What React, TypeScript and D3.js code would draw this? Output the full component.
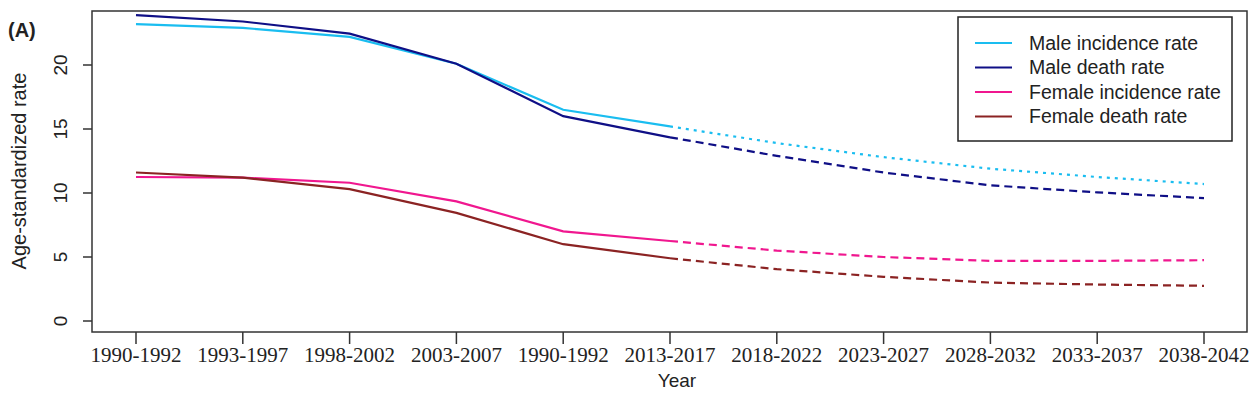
import React, { useRef, useEffect } from 'react';
import * as d3 from 'd3';

// period labels (the fifth one really reads "1990-1992" in the source)
const periods = [
  '1990-1992', '1993-1997', '1998-2002', '2003-2007', '1990-1992', '2013-2017',
  '2018-2022', '2023-2027', '2028-2032', '2033-2037', '2038-2042',
];
const observedEnd = 5; // index of 2013-2017, last observed period

const maleIncidence = [23.2, 22.9, 22.2, 20.1, 16.5, 15.2, 13.9, 12.8, 11.9, 11.25, 10.7];
const maleDeath = [23.9, 23.4, 22.45, 20.1, 16.0, 14.35, 12.9, 11.6, 10.6, 10.05, 9.6];
const femaleIncidence = [11.25, 11.2, 10.8, 9.35, 7.0, 6.25, 5.5, 5.0, 4.7, 4.7, 4.75];
const femaleDeath = [11.6, 11.2, 10.3, 8.45, 6.0, 4.9, 4.05, 3.45, 3.0, 2.85, 2.75];

const yTicks = [0, 5, 10, 15, 20];

const seriesList = [
  { label: 'Male incidence rate', values: maleIncidence, color: '#1ABDF0', dash: '3,5' },
  { label: 'Male death rate', values: maleDeath, color: '#0F0F86', dash: '8,5' },
  { label: 'Female incidence rate', values: femaleIncidence, color: '#F0178F', dash: '8,5' },
  { label: 'Female death rate', values: femaleDeath, color: '#8B2323', dash: '8,5' },
];

const W = 1258;
const H = 393;

const App: React.FC = () => {
  const svgRef = useRef<SVGSVGElement | null>(null);

  useEffect(() => {
    const svg = d3.select(svgRef.current);
    svg.selectAll('*').remove();

    const box = { left: 92, right: 1247, top: 11, bottom: 332 };
    const x = d3.scaleLinear().domain([0, periods.length - 1]).range([136, 1204]);
    const y = d3.scaleLinear().domain([0, 20]).range([321, 65]);
    const sans = 'Liberation Sans, Arial, sans-serif';
    const serif = 'Liberation Serif, Times New Roman, serif';

    svg.append('rect')
      .attr('width', W)
      .attr('height', H)
      .attr('fill', '#fff');

    // observed part solid, projection dashed/dotted
    const ln = d3.line<{ v: number; i: number }>()
      .x(d => x(d.i))
      .y(d => y(d.v));

    seriesList.forEach(s => {
      const pts = s.values.map((v, i) => ({ v, i }));
      svg.append('path')
        .datum(pts.slice(0, observedEnd + 1))
        .attr('d', ln)
        .attr('fill', 'none')
        .attr('stroke', s.color)
        .attr('stroke-width', 2.2);
      svg.append('path')
        .datum(pts.slice(observedEnd))
        .attr('d', ln)
        .attr('fill', 'none')
        .attr('stroke', s.color)
        .attr('stroke-width', 2.2)
        .attr('stroke-dasharray', s.dash);
    });

    // frame
    svg.append('rect')
      .attr('x', box.left)
      .attr('y', box.top)
      .attr('width', box.right - box.left)
      .attr('height', box.bottom - box.top)
      .attr('fill', 'none')
      .attr('stroke', '#333')
      .attr('stroke-width', 1.5);

    // y axis
    const yAxis = svg.append('g');
    yTicks.forEach(t => {
      yAxis.append('line')
        .attr('x1', box.left - 9)
        .attr('x2', box.left)
        .attr('y1', y(t))
        .attr('y2', y(t))
        .attr('stroke', '#333')
        .attr('stroke-width', 1.5);
      yAxis.append('text')
        .attr('transform', `translate(67,${y(t)}) rotate(-90)`)
        .attr('text-anchor', 'middle')
        .style('font-family', sans)
        .style('font-size', '19px')
        .attr('fill', '#222')
        .text(t);
    });

    svg.append('text')
      .attr('transform', `translate(26,171) rotate(-90)`)
      .attr('text-anchor', 'middle')
      .style('font-family', sans)
      .style('font-size', '20px')
      .attr('fill', '#222')
      .text('Age-standardized rate');

    // x axis
    const xAxis = svg.append('g');
    periods.forEach((p, i) => {
      xAxis.append('line')
        .attr('x1', x(i))
        .attr('x2', x(i))
        .attr('y1', box.bottom)
        .attr('y2', box.bottom + 12)
        .attr('stroke', '#333')
        .attr('stroke-width', 1.5);
      xAxis.append('text')
        .attr('x', x(i))
        .attr('y', 362)
        .attr('text-anchor', 'middle')
        .style('font-family', serif)
        .style('font-size', '21px')
        .attr('fill', '#222')
        .text(p);
    });

    svg.append('text')
      .attr('x', 677)
      .attr('y', 387)
      .attr('text-anchor', 'middle')
      .style('font-family', sans)
      .style('font-size', '19px')
      .attr('fill', '#222')
      .text('Year');

    svg.append('text')
      .attr('x', 8)
      .attr('y', 37)
      .style('font-family', sans)
      .style('font-size', '20px')
      .style('font-weight', 'bold')
      .attr('fill', '#222')
      .text('(A)');

    // legend
    const legend = svg.append('g');
    legend.append('rect')
      .attr('x', 958)
      .attr('y', 17)
      .attr('width', 274)
      .attr('height', 124)
      .attr('fill', '#fff')
      .attr('stroke', '#222')
      .attr('stroke-width', 1.5);

    seriesList.forEach((s, idx) => {
      const ry = 43 + idx * 24.5;
      legend.append('line')
        .attr('x1', 975)
        .attr('x2', 1012)
        .attr('y1', ry)
        .attr('y2', ry)
        .attr('stroke', s.color)
        .attr('stroke-width', 2);
      legend.append('text')
        .attr('x', 1029)
        .attr('y', ry)
        .attr('dy', '0.35em')
        .style('font-family', sans)
        .style('font-size', '19.5px')
        .attr('fill', '#222')
        .text(s.label);
    });
  }, []);

  return (
    <svg
      ref={svgRef}
      width={W}
      height={H}
      style={{ position: 'absolute', left: 0, top: 0, display: 'block' }}
    />
  );
};

export default App;
